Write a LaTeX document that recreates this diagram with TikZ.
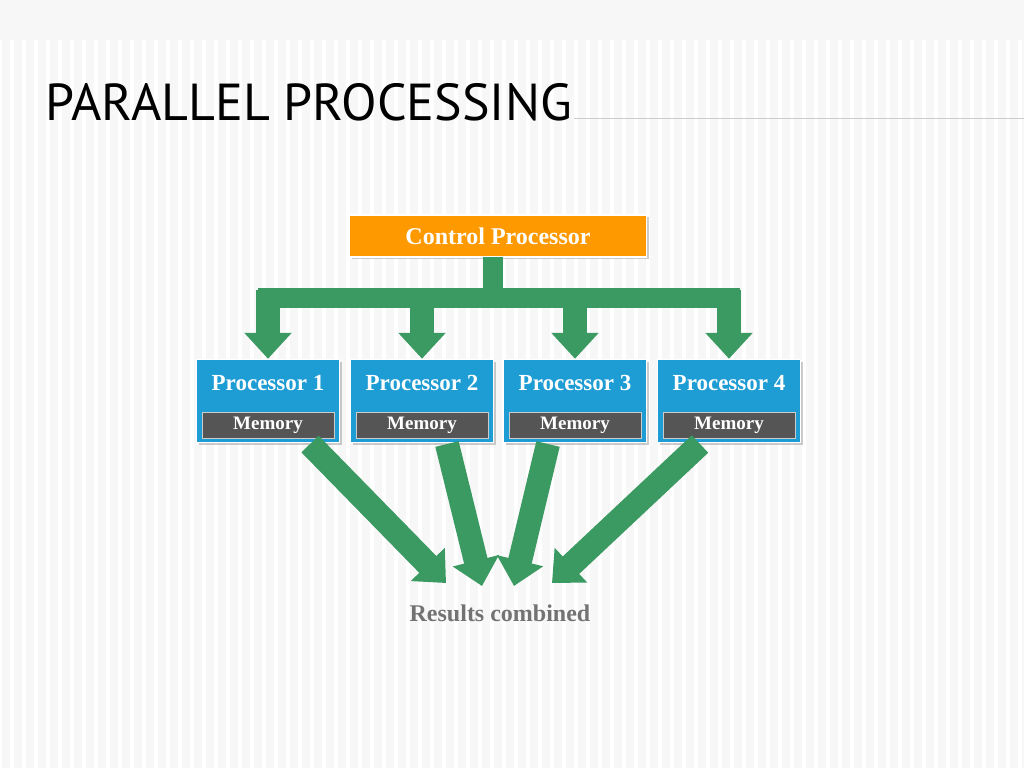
\documentclass[tikz,border=0pt]{standalone}
\usepackage{fontspec}
\setmainfont{Liberation Serif}
\newfontfamily\titlefont{PT Sans}
\usetikzlibrary{arrows.meta,shadows}
\definecolor{grn}{HTML}{3A9A62}
\definecolor{org}{HTML}{FF9900}
\definecolor{blu}{HTML}{1E9CD4}
\definecolor{mem}{HTML}{555555}
\begin{document}
\begin{tikzpicture}[x=1pt,y=-1pt,
 pbox/.style={draw=white,line width=1.5pt,fill=blu,minimum width=143pt,minimum height=83pt,drop shadow={opacity=0.4}},
 mbox/.style={draw=white!80!black,line width=0.8pt,fill=mem,minimum width=132pt,minimum height=26pt,inner sep=0pt,text=white,font=\bfseries\fontsize{19}{21}\selectfont},
 ptext/.style={text=white,font=\bfseries\fontsize{23}{26}\selectfont},
 garrow/.style={draw=grn,line width=24pt,-{Triangle[width=46pt,length=26pt]}},
 gline/.style={draw=grn,line width=20pt}]
\useasboundingbox (0,0) rectangle (1024,768);
\fill[gray!6] (0,0) rectangle (1024,768);
\foreach \x in {0,12,...,1024} \draw[white,line width=4pt] (\x,40) -- (\x,768);
\node[anchor=base west,inner sep=0pt,font=\titlefont\fontsize{52}{56}\selectfont,text=black] (title) at (45,120) {PARALLEL PROCESSING};
\draw[gray!40,line width=0.8pt] (title.base east) ++(2,-2) -- (1024,118);
\node[draw=white,line width=1.5pt,fill=org,minimum width=297pt,minimum height=42pt,text=white,font=\bfseries\fontsize{24}{26}\selectfont,drop shadow={opacity=0.4}] (cp) at (498,236) {Control Processor};
\foreach \i/\x in {1/268,2/422,3/575,4/729}{
 \node[pbox] (p\i) at (\x,401) {};
 \node[ptext] (t\i) at (\x,383) {Processor \i};
 \node[mbox] (m\i) at (\x,425) {Memory};
}
\coordinate (st) at (493,257);
\coordinate (bl) at (258,298); \coordinate (br) at (740,298);
\draw[gline] (st) -- (493,298);
\draw[gline] (bl) -- (br);
\foreach \i/\x in {1/268,2/422,3/575,4/729}{
 \coordinate (s\i) at (\x,290);
 \draw[garrow] (s\i) -- (p\i.north);
}
\node[text=gray!90!black,font=\bfseries\fontsize{24}{26}\selectfont] (res) at (500,613) {Results combined};
\coordinate (e1) at (446,583); \coordinate (e2) at (482,586);
\coordinate (e3) at (514,586); \coordinate (e4) at (552,583);
\draw[garrow] (310,444) -- (e1);
\draw[garrow] (447,444) -- (e2);
\draw[garrow] (548,444) -- (e3);
\draw[garrow] (700,444) -- (e4);
\end{tikzpicture}
\end{document}
